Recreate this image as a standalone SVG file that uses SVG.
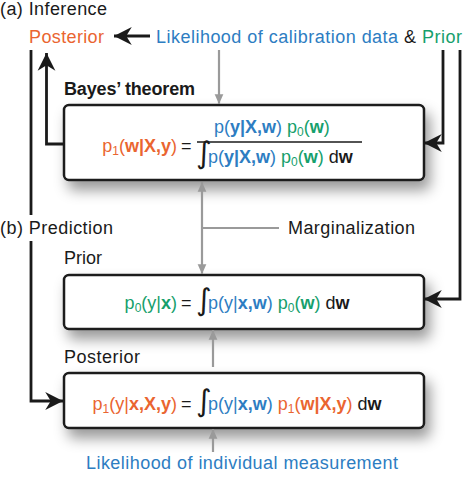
<svg xmlns="http://www.w3.org/2000/svg" width="474" height="479" viewBox="0 0 474 479">
<style>
text{font-family:"Liberation Sans",Arial,sans-serif;font-size:18px;fill:#1a1a1a}
.o{fill:#EA6530}.b{fill:#2D7DC2}.g{fill:#16A06C}.k{fill:#1a1a1a}
.bd{font-weight:bold}
.sub{font-size:12px}
.int{font-family:"DejaVu Sans","Liberation Sans",sans-serif;font-size:30px;font-weight:normal}
.box{fill:#fff;stroke:#1a1a1a;stroke-width:2.5}
.blk{fill:none;stroke:#1a1a1a;stroke-width:2.8}
.gry{fill:none;stroke:#9a9a9a;stroke-width:2.2}
</style>
<defs>
<filter id="sh" x="-20%" y="-30%" width="140%" height="180%">
<feDropShadow dx="5" dy="9" stdDeviation="7" flood-color="#000" flood-opacity="0.4"/>
</filter>
<marker id="ab" markerUnits="userSpaceOnUse" markerWidth="20" markerHeight="20" viewBox="-17 -9 18 18" refX="0" refY="0" orient="auto">
<path d="M0,0 L-16,-8 L-11,0 L-16,8 Z" fill="#1a1a1a"/>
</marker>
<marker id="ag" markerUnits="userSpaceOnUse" markerWidth="12" markerHeight="12" viewBox="-10 -5 11 10" refX="0" refY="0" orient="auto">
<path d="M0,0 L-9,-4 L-9,4 Z" fill="#9a9a9a"/>
</marker>
</defs>

<g id="label-inference"><text x="0" y="15" textLength="107" lengthAdjust="spacing">(a) Inference</text></g>
<g id="label-prediction"><text x="0" y="234" textLength="113" lengthAdjust="spacing">(b) Prediction</text></g>

<g id="node-posterior-top"><text class="o" x="29" y="43" textLength="75" lengthAdjust="spacing">Posterior</text></g>
<g id="node-likelihood-calibration"><text x="156" y="43" textLength="306" lengthAdjust="spacing"><tspan class="b">Likelihood of calibration data</tspan> <tspan class="k">&amp;</tspan> <tspan class="g">Prior</tspan></text></g>

<g id="node-bayes">
<text x="64" y="95" class="bd" font-size="17" textLength="131" lengthAdjust="spacing">Bayes’ theorem</text>
<rect class="box" x="64" y="105" width="360" height="75" rx="5" filter="url(#sh)"/>
<text x="177" y="152" text-anchor="end" class="o">p<tspan class="sub" dy="3">1</tspan><tspan dy="-3">(</tspan><tspan class="bd">w|X,y</tspan>)</text>
<text x="181" y="152">=</text>
<text x="214" y="133"><tspan class="b">p(<tspan class="bd">y|X,w</tspan>)</tspan> <tspan class="g">p<tspan class="sub" dy="3">0</tspan><tspan dy="-3">(</tspan><tspan class="bd">w</tspan>)</tspan></text>
<line x1="197" y1="142" x2="362" y2="142" stroke="#1a1a1a" stroke-width="1.6"/>
<text x="196" y="163" class="int">∫</text>
<text x="208" y="163"><tspan class="b">p(<tspan class="bd">y|X,w</tspan>)</tspan> <tspan class="g">p<tspan class="sub" dy="3">0</tspan><tspan dy="-3">(</tspan><tspan class="bd">w</tspan>)</tspan> <tspan class="k">d<tspan class="bd">w</tspan></tspan></text>
</g>

<g id="node-marginalization"><text x="288" y="234" textLength="127" lengthAdjust="spacing">Marginalization</text></g>

<g id="node-prior">
<text x="64" y="264">Prior</text>
<rect class="box" x="64" y="275" width="360" height="54" rx="5" filter="url(#sh)"/>
<text x="177" y="309" text-anchor="end" class="g">p<tspan class="sub" dy="3">0</tspan><tspan dy="-3">(y|</tspan><tspan class="bd">x</tspan>)</text>
<text x="181" y="309">=</text>
<text x="196" y="310" class="int">∫</text>
<text x="208" y="309"><tspan class="b">p(y|<tspan class="bd">x,w</tspan>)</tspan> <tspan class="g">p<tspan class="sub" dy="3">0</tspan><tspan dy="-3">(</tspan><tspan class="bd">w</tspan>)</tspan> <tspan class="k">d<tspan class="bd">w</tspan></tspan></text>
</g>

<g id="node-posterior">
<text x="64" y="363" textLength="76" lengthAdjust="spacing">Posterior</text>
<rect class="box" x="64" y="373" width="360" height="55" rx="5" filter="url(#sh)"/>
<text x="177" y="410" text-anchor="end" class="o">p<tspan class="sub" dy="3">1</tspan><tspan dy="-3">(y|</tspan><tspan class="bd">x,X,y</tspan>)</text>
<text x="181" y="410">=</text>
<text x="196" y="411" class="int">∫</text>
<text x="208" y="410"><tspan class="b">p(y|<tspan class="bd">x,w</tspan>)</tspan> <tspan class="o">p<tspan class="sub" dy="3">1</tspan><tspan dy="-3">(</tspan><tspan class="bd">w|X,y</tspan>)</tspan> <tspan class="k">d<tspan class="bd">w</tspan></tspan></text>
</g>

<g id="node-likelihood-individual"><text x="86" y="469" class="b" textLength="312" lengthAdjust="spacing">Likelihood of individual measurement</text></g>

<g id="connectors">
<line class="blk" x1="150" y1="36" x2="114" y2="36" marker-end="url(#ab)"/>
<polyline class="blk" points="64,144 46.5,144 46.5,53" marker-end="url(#ab)"/>
<line class="blk" x1="31" y1="50" x2="31" y2="215"/>
<polyline class="blk" points="31,241 31,401 63,401" marker-end="url(#ab)"/>
<polyline class="blk" points="443,50 443,143 424,143" marker-end="url(#ab)"/>
<polyline class="blk" points="460,50 460,299 424,299" marker-end="url(#ab)"/>
<line class="gry" x1="219" y1="50" x2="219" y2="104" marker-end="url(#ag)"/>
<line class="gry" x1="202" y1="228" x2="202" y2="182" marker-end="url(#ag)"/>
<line class="gry" x1="202" y1="228" x2="202" y2="274" marker-end="url(#ag)"/>
<line class="gry" x1="202" y1="228" x2="279" y2="228"/>
<line class="gry" x1="213" y1="367" x2="213" y2="330" marker-end="url(#ag)"/>
<line class="gry" x1="213" y1="452" x2="213" y2="429" marker-end="url(#ag)"/>
</g>
</svg>
